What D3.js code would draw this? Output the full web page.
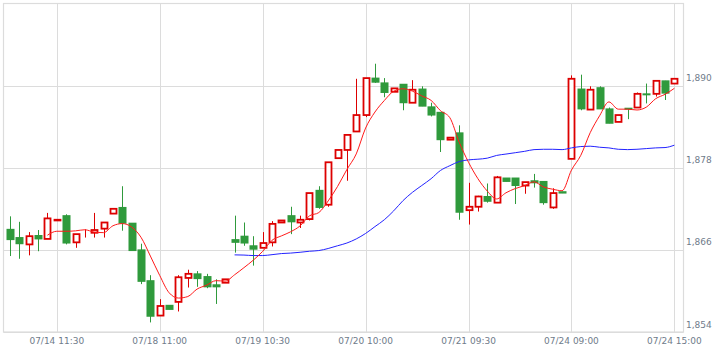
<!DOCTYPE html>
<html>
<head>
<meta charset="utf-8">
<script src="https://cdn.jsdelivr.net/npm/d3@7"></script>
<style>
  html, body { margin: 0; padding: 0; background: #fff; }
  svg { display: block; }
  text { font-family: "DejaVu Sans", Verdana, sans-serif; font-size: 9px; fill: #6f7b8a; }
</style>
</head>
<body>
<svg id="chart" width="719" height="352"></svg>
<script>
// ---- data ----
const openV  = [1869.0,1867.8,1866.8,1868.1,1867.6,1870.3,1871.0,1867.1,1868.4,1868.5,1869.1,1871.3,1872.2,1869.9,1866.0,1861.5,1856.4,1857.9,1858.4,1861.9,1862.5,1862.1,1860.9,1861.2,
                1867.5,1868.0,1866.6,1866.3,1867.1,1870.0,1871.0,1870.0,1870.5,1874.7,1872.6,1879.4,1880.6,1883.3,1885.7,1891.1,1890.4,1889.1,1890.2,1887.5,1889.5,1886.9,1886.1,1882.1,
                1883.1,1871.8,1872.3,1873.8,1872.9,1876.5,1876.5,1875.4,1876.1,1876.0,1872.2,1874.5,1879.3,1889.5,1886.5,1889.7,1886.6,1884.7,1886.7,1886.8,1888.8,1888.8,1890.7,1890.3];
const highV  = [1870.9,1870.1,1868.6,1868.9,1871.4,1870.4,1871.2,1868.3,1869.0,1871.4,1870.0,1872.0,1875.3,1869.9,1866.9,1862.3,1858.8,1857.9,1862.3,1863.1,1862.9,1862.5,1861.7,1861.7,
                1871.0,1870.0,1868.0,1868.6,1870.2,1870.3,1872.3,1871.0,1874.3,1875.3,1878.8,1880.6,1882.8,1891.0,1891.1,1893.2,1891.1,1889.6,1890.2,1890.8,1889.9,1887.5,1886.1,1882.4,
                1884.2,1875.8,1873.9,1875.7,1876.8,1876.5,1876.5,1875.9,1877.1,1876.0,1875.0,1874.5,1891.5,1891.6,1889.9,1889.9,1886.8,1885.7,1886.7,1889.0,1890.3,1890.7,1890.7,1891.0];
const lowV   = [1865.1,1864.7,1865.2,1865.8,1867.6,1870.3,1866.8,1866.3,1867.8,1867.8,1867.8,1871.3,1868.8,1865.9,1861.0,1855.4,1856.4,1857.3,1857.0,1860.5,1860.6,1860.4,1858.1,1861.2,
                1865.6,1866.6,1863.7,1866.3,1866.5,1870.0,1868.3,1869.2,1870.3,1872.0,1872.3,1879.4,1876.1,1883.3,1885.4,1890.4,1888.3,1889.1,1886.4,1887.5,1887.0,1885.5,1880.3,1882.1,
                1870.4,1869.7,1871.6,1872.9,1872.9,1876.0,1872.7,1874.2,1875.1,1872.6,1872.0,1874.3,1879.3,1886.4,1886.5,1886.6,1884.5,1884.7,1885.1,1886.8,1887.4,1888.4,1887.9,1890.3];
const closeV = [1867.5,1866.9,1868.0,1867.6,1870.6,1870.4,1867.0,1868.3,1868.4,1868.9,1870.0,1872.0,1869.9,1865.9,1861.4,1856.3,1857.8,1857.3,1862.0,1862.5,1861.8,1860.6,1860.6,1861.7,
                1867.1,1867.0,1866.1,1867.0,1869.8,1870.3,1870.1,1870.4,1874.3,1872.2,1878.8,1880.6,1882.8,1885.7,1891.1,1890.5,1889.0,1889.6,1887.5,1889.4,1887.0,1885.7,1882.1,1882.4,
                1871.5,1872.3,1873.8,1873.1,1876.6,1876.0,1875.4,1875.9,1875.8,1872.9,1874.3,1874.3,1891.0,1886.6,1889.4,1886.6,1884.5,1885.7,1886.6,1888.8,1888.7,1890.7,1888.9,1891.0];

// short moving average (red)
const maShort = [null,null,null,null,1868.14,1868.72,1868.72,1868.78,1868.94,1868.60,1868.52,1869.52,1869.84,1869.34,1867.84,1865.10,1862.26,1859.74,1858.96,1859.18,1860.28,1860.84,1861.50,1861.44,
                 1862.36,1863.40,1864.50,1865.78,1867.40,1868.04,1868.65,1869.51,1870.97,1871.45,1873.15,1875.26,1877.74,1880.02,1883.80,1886.14,1887.82,1889.18,1889.54,1889.20,1888.50,1887.84,1886.34,1885.32,
                 1881.74,1878.80,1876.41,1874.60,1873.44,1874.34,1874.96,1875.39,1875.94,1875.20,1874.86,1874.64,1877.66,1879.82,1883.12,1885.58,1887.62,1886.56,1886.56,1886.44,1886.86,1888.09,1888.73,1889.61];
// long moving average (blue)
const maLong = [null,null,null,null,null,null,null,null,null,null,null,null,null,null,null,null,null,null,null,null,null,null,null,null,
                1865.27,1865.24,1865.17,1865.17,1865.30,1865.46,1865.53,1865.65,1865.80,1865.90,1866.20,1866.60,1867.00,1867.60,1868.40,1869.40,1870.40,1871.70,1873.20,1874.40,1875.40,1876.40,1877.60,1878.30,
                1878.90,1879.15,1879.25,1879.40,1879.80,1880.00,1880.20,1880.40,1880.65,1880.70,1880.70,1880.65,1880.90,1881.10,1881.15,1881.00,1880.90,1880.70,1880.65,1880.70,1880.80,1880.90,1880.95,1881.30];

const xTickIndex  = [5, 16, 27, 38, 49, 60, 71];
const xTickLabels = ["07/14 11:30","07/18 11:00","07/19 10:30","07/20 10:00","07/21 09:30","07/24 09:00","07/24 15:00"];
const yTicks = [1854, 1866, 1878, 1890];

// ---- layout ----
const L = 3.5, R = 683.5, T = 3.5, B = 332;
const svg = d3.select("#chart");
const x = d3.scaleLinear().domain([0, openV.length - 1]).range([10, 674.4]);
const y = d3.scaleLinear().domain([1854, 1902]).range([B, T]);

const GRID = "#dcdcdc";
const GREEN = "#2f9a3c";
const RED = "#dd0000";

// grid
const g = svg.append("g");
g.selectAll(".hg").data(yTicks).enter().append("line")
  .attr("x1", L).attr("x2", R)
  .attr("y1", d => Math.round(y(d)) + 0.5).attr("y2", d => Math.round(y(d)) + 0.5)
  .attr("stroke", GRID).attr("stroke-width", 1);
g.selectAll(".vg").data(xTickIndex).enter().append("line")
  .attr("x1", d => Math.round(x(d)) + 0.5).attr("x2", d => Math.round(x(d)) + 0.5)
  .attr("y1", T).attr("y2", B)
  .attr("stroke", GRID).attr("stroke-width", 1);
g.append("rect").attr("x", L).attr("y", T).attr("width", R - L).attr("height", B - T)
  .attr("fill", "none").attr("stroke", GRID).attr("stroke-width", 1.2);

// axis labels
svg.selectAll(".yl").data(yTicks).enter().append("text")
  .attr("x", 686).attr("y", d => y(d) - 7.5)
  .attr("dominant-baseline", "central")
  .text(d => d3.format(",")(d));
svg.selectAll(".xl").data(xTickIndex).enter().append("text")
  .attr("x", d => x(d)).attr("y", 340.5)
  .attr("text-anchor", "middle").attr("dominant-baseline", "central")
  .text((d, i) => xTickLabels[i]);

// candles
const idx = d3.range(openV.length);
const cg = svg.append("g");
idx.forEach(i => {
  const up = closeV[i] >= openV[i];
  const col = up ? RED : GREEN;
  const cx = Math.round(x(i)) + 0.5;
  cg.append("line")
    .attr("x1", cx).attr("x2", cx)
    .attr("y1", y(highV[i])).attr("y2", y(lowV[i]))
    .attr("stroke", col).attr("stroke-width", 1);
  const top = y(Math.max(openV[i], closeV[i]));
  const bot = y(Math.min(openV[i], closeV[i]));
  if (up) {
    cg.append("rect")
      .attr("x", cx - 3).attr("width", 6)
      .attr("y", top).attr("height", Math.max(0, bot - top))
      .attr("fill", "#fff").attr("stroke", col).attr("stroke-width", 1.8);
  } else {
    cg.append("rect")
      .attr("x", cx - 4).attr("width", 8)
      .attr("y", top - 0.5).attr("height", Math.max(2, bot - top + 1))
      .attr("fill", col);
  }
});

// moving averages
const line = d3.line().defined(d => d[1] != null).x(d => x(d[0])).y(d => y(d[1])).curve(d3.curveMonotoneX);
svg.append("path").datum(idx.map(i => [i, maLong[i]]))
  .attr("d", line).attr("fill", "none").attr("stroke", "#2323ff").attr("stroke-width", 1);
svg.append("path").datum(idx.map(i => [i, maShort[i]]))
  .attr("d", line).attr("fill", "none").attr("stroke", "#ff1a1a").attr("stroke-width", 1);
</script>
</body>
</html>
